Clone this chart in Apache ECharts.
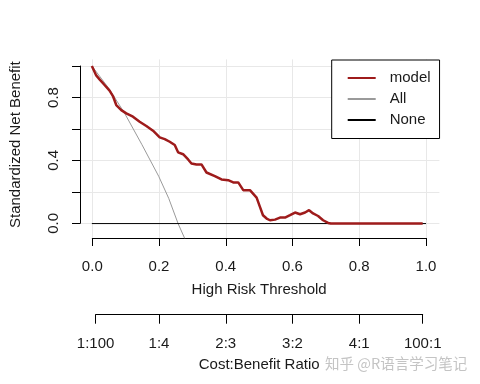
<!DOCTYPE html>
<html><head><meta charset="utf-8">
<script src="https://cdn.jsdelivr.net/npm/echarts@6/dist/echarts.min.js"></script>
<style>html,body{margin:0;padding:0;background:#fff}#c{width:480px;height:384px}</style>
</head><body><div id="c"></div>
<script>
// ---- data ----
const modelThreshold = [0, 0.013, 0.023, 0.038, 0.053, 0.063, 0.073, 0.088, 0.103, 0.123, 0.143, 0.163, 0.183, 0.203, 0.218, 0.233, 0.248, 0.258, 0.273, 0.288, 0.298, 0.313, 0.328, 0.343, 0.368, 0.388, 0.408, 0.423, 0.438, 0.453, 0.473, 0.493, 0.503, 0.512, 0.523, 0.533, 0.548, 0.563, 0.578, 0.593, 0.608, 0.623, 0.638, 0.650, 0.662, 0.677, 0.692, 0.707, 0.715, 0.99];
const modelBenefit   = [1.0, 0.94, 0.915, 0.879, 0.843, 0.809, 0.752, 0.72, 0.699, 0.678, 0.646, 0.619, 0.589, 0.547, 0.536, 0.519, 0.498, 0.452, 0.440, 0.407, 0.381, 0.375, 0.375, 0.324, 0.301, 0.280, 0.275, 0.261, 0.261, 0.212, 0.212, 0.165, 0.106, 0.053, 0.032, 0.021, 0.025, 0.038, 0.038, 0.053, 0.070, 0.059, 0.070, 0.085, 0.064, 0.048, 0.021, 0.004, 0, 0];
const allThreshold = [0, 0.05, 0.098, 0.15, 0.2, 0.23, 0.258, 0.278];
const allBenefit   = [1.0, 0.86, 0.70, 0.50, 0.30, 0.16, 0.0, -0.095];
const noneThreshold = [0, 1];
const noneBenefit   = [0, 0];
const yLabelShown = [0, 0.4, 0.8];
const ratioTickValues = [0.0099, 0.2, 0.4, 0.6, 0.8, 0.9901];
const ratioTickLabels = ['1:100', '1:4', '2:3', '3:2', '4:1', '100:1'];

const zip = (a, b) => a.map((v, i) => [v, b[i]]);
const FONT = '"Liberation Sans", Arial, sans-serif';
const TXT = '#1a1a1a';
const GRIDC = '#e8e8e8';

const chart = echarts.init(document.getElementById('c'), null, {renderer: 'canvas'});
chart.setOption({
  animation: false,
  backgroundColor: '#fff',
  textStyle: {fontFamily: FONT},
  grid: [
    {left: 78.5, right: 40.6, top: 59.4, bottom: 146},
    {left: 92.3, right: 54, top: 59.4, bottom: 146},
    {left: 78.5, right: 40.6, top: 66, bottom: 160.7},
    {left: 95.6, right: 57.3, top: 290, bottom: 69.3}
  ],
  xAxis: [
    {gridIndex: 0, type: 'value', min: -0.04, max: 1.04, show: false},
    {gridIndex: 1, type: 'value', min: 0, max: 1, interval: 0.2,
      axisLine: {show: true, onZero: false, lineStyle: {color: '#000', width: 1}},
      axisTick: {show: true, length: 8, lineStyle: {color: '#000', width: 1}},
      axisLabel: {margin: 21, fontSize: 15, color: TXT, fontFamily: FONT, formatter: v => v.toFixed(1)},
      splitLine: {show: true, lineStyle: {color: GRIDC, width: 1}},
      name: 'High Risk Threshold', nameLocation: 'middle', nameGap: 44,
      nameTextStyle: {fontSize: 15, color: TXT, fontFamily: FONT}},
    {gridIndex: 2, type: 'value', min: 0, max: 1, show: false},
    {gridIndex: 3, type: 'value', min: ratioTickValues[0], max: ratioTickValues[ratioTickValues.length - 1],
      axisLine: {show: true, onZero: false, lineStyle: {color: '#000', width: 1}},
      axisTick: {show: true, length: 9, customValues: ratioTickValues, lineStyle: {color: '#000', width: 1}},
      axisLabel: {margin: 22, fontSize: 15, color: TXT, fontFamily: FONT, customValues: ratioTickValues,
        formatter: v => { let best = 0; ratioTickValues.forEach((t, i) => { if (Math.abs(t - v) < Math.abs(ratioTickValues[best] - v)) best = i; }); return ratioTickLabels[best]; }},
      splitLine: {show: false},
      name: 'Cost:Benefit Ratio', nameLocation: 'middle', nameGap: 43,
      nameTextStyle: {fontSize: 15, color: TXT, fontFamily: FONT}}
  ],
  yAxis: [
    {gridIndex: 0, type: 'value', min: -0.0916, max: 1.0416, show: false},
    {gridIndex: 1, type: 'value', min: 0, max: 1, show: false},
    {gridIndex: 2, type: 'value', min: 0, max: 1, interval: 0.2,
      axisLine: {show: true, onZero: false, lineStyle: {color: '#000', width: 1}},
      axisTick: {show: true, length: 8, lineStyle: {color: '#000', width: 1}},
      axisLabel: {margin: 19, rotate: 90, fontSize: 15, color: TXT, fontFamily: FONT,
        formatter: v => yLabelShown.some(s => Math.abs(s - v) < 1e-6) ? v.toFixed(1) : ''},
      splitLine: {show: true, lineStyle: {color: GRIDC, width: 1}},
      name: 'Standardized Net Benefit', nameLocation: 'middle', nameGap: 57,
      nameTextStyle: {fontSize: 15, color: TXT, fontFamily: FONT}},
    {gridIndex: 3, type: 'value', min: 0, max: 1, show: false}
  ],
  legend: {
    data: ['model', 'All', 'None'], orient: 'vertical', left: 331.7, top: 60,
    padding: [10.5, 9, 11, 15], itemWidth: 28, itemHeight: 14, itemGap: 6,
    borderColor: '#000', borderWidth: 1, backgroundColor: '#fff', borderRadius: 0,
    itemStyle: {opacity: 0},
    textStyle: {fontSize: 15, color: TXT, fontFamily: FONT, padding: [0, 0, 0, 9]}
  },
  series: [
    {name: 'All', type: 'line', xAxisIndex: 0, yAxisIndex: 0, data: zip(allThreshold, allBenefit),
      symbol: 'none', clip: true, lineStyle: {color: '#9a9a9a', width: 1}, itemStyle: {color: '#9a9a9a'}, z: 3},
    {name: 'None', type: 'line', xAxisIndex: 0, yAxisIndex: 0, data: zip(noneThreshold, noneBenefit),
      symbol: 'none', clip: true, lineStyle: {color: '#000', width: 1}, itemStyle: {color: '#000'}, z: 3},
    {name: 'model', type: 'line', xAxisIndex: 0, yAxisIndex: 0, data: zip(modelThreshold, modelBenefit),
      symbol: 'none', clip: true, lineStyle: {color: '#9e1b1b', width: 2.5}, itemStyle: {color: '#9e1b1b'}, z: 4}
  ],
  graphic: [
    {type: 'text', left: 325, top: 356, silent: true,
      style: {text: '知乎 @R语言学习笔记', fill: '#c4c4c4', font: '14.5px "Noto Sans CJK SC", sans-serif'}}
  ]
});
</script>
</body></html>
